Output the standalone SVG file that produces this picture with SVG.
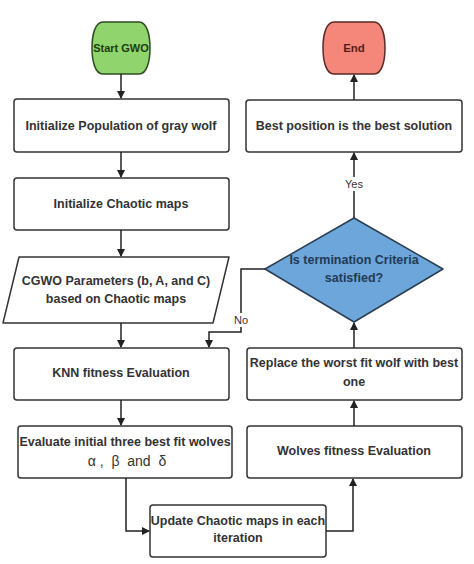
<svg xmlns="http://www.w3.org/2000/svg" width="474" height="564" viewBox="0 0 474 564">
<defs>
<marker id="ah" markerWidth="8" markerHeight="8" refX="7" refY="4" orient="auto" markerUnits="userSpaceOnUse">
<path d="M0,0 L8,4 L0,8 Z" fill="#222"/>
</marker>
<style>
.box{fill:#fff;stroke:#333;stroke-width:1.5}
.t{font-family:"Liberation Sans",Arial,sans-serif;font-weight:bold;font-size:12.5px;fill:#333;text-anchor:middle}
.c{fill:none;stroke:#222;stroke-width:1.5;marker-end:url(#ah)}
.lbl{font-family:"Liberation Sans",Arial,sans-serif;font-size:11px;fill:#333;text-anchor:middle}
</style>
</defs>
<rect width="474" height="564" fill="#fff"/>
<g id="start">
<path d="M103,22 H139 C147,22 150,35 150,48 C150,61 147,74 139,74 H103 C95,74 92,61 92,48 C92,35 95,22 103,22 Z" fill="#8fd46c" stroke="#2f4a22" stroke-width="1.5"/>
<text x="121" y="52" class="t" style="font-size:11px;fill:#1d3d10">Start GWO</text>
</g>
<g id="init-pop">
<rect x="14" y="99" width="215" height="53" rx="3" class="box"/>
<text x="121" y="130" class="t">Initialize Population of gray wolf</text>
</g>
<g id="init-chaotic">
<rect x="14" y="178" width="215" height="52" rx="3" class="box"/>
<text x="121" y="208" class="t">Initialize Chaotic maps</text>
</g>
<g id="params">
<path d="M19,257 H229 L213,323 H3 Z" class="box" stroke-linejoin="round"/>
<text x="116" y="285" class="t">CGWO Parameters (b, A, and C)</text>
<text x="116" y="303" class="t">based on Chaotic maps</text>
</g>
<g id="knn">
<rect x="14" y="348" width="215" height="52" rx="3" class="box"/>
<text x="121" y="377" class="t">KNN fitness Evaluation</text>
</g>
<g id="eval-initial">
<rect x="18" y="426" width="214" height="52" rx="3" class="box"/>
<text x="125" y="446" class="t">Evaluate initial three best fit wolves</text>
<text x="127" y="466" class="t" style="font-weight:normal;font-size:14px;white-space:pre" xml:space="preserve">α ,  β  and  δ</text>
</g>
<g id="update">
<rect x="150" y="505" width="176" height="52" rx="3" class="box"/>
<text x="238" y="525" class="t">Update Chaotic maps in each</text>
<text x="238" y="542" class="t">iteration</text>
</g>
<g id="wolves-eval">
<rect x="247" y="426" width="215" height="52" rx="3" class="box"/>
<text x="354" y="455" class="t">Wolves fitness Evaluation</text>
</g>
<g id="replace">
<rect x="247" y="348" width="215" height="52" rx="3" class="box"/>
<text x="354" y="367" class="t">Replace the worst fit wolf with best</text>
<text x="354" y="386" class="t">one</text>
</g>
<g id="decision">
<path d="M354,218 L443,269 L354,322 L265,269 Z" fill="#6ca6da" stroke="#2b3e52" stroke-width="1.5" stroke-linejoin="round"/>
<text x="354" y="264" class="t" style="fill:#223a55">Is termination Criteria</text>
<text x="354" y="282" class="t" style="fill:#223a55">satisfied?</text>
</g>
<g id="best">
<rect x="246" y="100" width="216" height="52" rx="3" class="box"/>
<text x="354" y="130" class="t">Best position is the best solution</text>
</g>
<g id="end">
<path d="M334,22 H374 C382,22 385,35 385,48 C385,61 382,74 374,74 H334 C326,74 323,61 323,48 C323,35 326,22 334,22 Z" fill="#f4877a" stroke="#5a2a26" stroke-width="1.5"/>
<text x="354" y="52" class="t" style="font-size:11.5px;fill:#5a1c18">End</text>
</g>
<g id="connectors">
<path d="M121,74 V98" class="c"/>
<path d="M121,152 V177" class="c"/>
<path d="M121,230 V256" class="c"/>
<path d="M121,323 V347" class="c"/>
<path d="M121,400 V425" class="c"/>
<path d="M126,478 V531 H149" class="c"/>
<path d="M326,531 H353 V479" class="c"/>
<path d="M354,426 V401" class="c"/>
<path d="M354,348 V323" class="c"/>
<path d="M265,269 H241 V332 H209 V347" class="c"/>
<path d="M354,218 V153" class="c"/>
<path d="M354,100 V75" class="c"/>
<rect x="232" y="313" width="18" height="14" fill="#fff"/>
<text x="241" y="324" class="lbl">No</text>
<rect x="343" y="177" width="22" height="14" fill="#fff"/>
<text x="354" y="188" class="lbl">Yes</text>
</g>
</svg>
